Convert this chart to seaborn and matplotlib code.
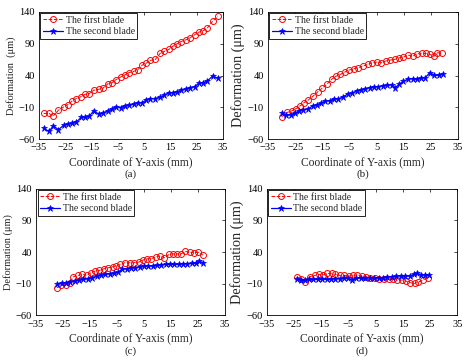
import matplotlib
matplotlib.use("Agg")
import matplotlib.pyplot as plt
import pandas as pd
import seaborn as sns

# ---- panel (a) ----
a_x = [-33.2, -31.2, -29.5, -27.6, -25.6, -24.0, -22.5, -20.9, -19.0, -17.4,
       -15.9, -14.2, -12.3, -10.7, -8.9, -7.4, -5.7, -3.9, -2.4, -0.8,
       1.1, 2.6, 4.3, 5.9, 7.4, 9.3, 11.2, 12.7, 14.4, 16.0,
       17.5, 19.1, 20.9, 22.5, 24.2, 25.8, 27.6, 29.1, 31.1, 33.0]
a_first = [-19.8, -19.8, -23.5, -14.6, -9.4, -5.7, -0.5, 3.7, 6.8, 10.5,
           11.5, 16.8, 18.3, 19.9, 26.7, 28.2, 33.5, 37.6, 40.8, 44.4,
           46.5, 49.1, 56.4, 59.6, 63.8, 65.3, 75.2, 77.9, 81.0, 86.2,
           89.9, 93.5, 96.1, 99.3, 104.0, 108.2, 110.8, 114.9, 125.4, 133.2]
a_second = [-43.3, -48.0, -39.1, -45.4, -38.1, -36.5, -35.5, -33.9, -26.1, -26.1,
            -24.5, -15.6, -20.8, -19.3, -15.6, -13.0, -8.8, -10.4, -7.8, -6.7,
            -5.2, -2.6, -2.6, 1.6, 3.7, 3.7, 6.3, 8.9, 13.1, 13.1,
            14.1, 16.8, 18.3, 20.9, 22.5, 27.7, 28.8, 31.4, 39.2, 35.6]

# ---- panel (b) ----
b_first_x = [-29.9, -28.0, -26.2, -24.6, -23.2, -21.7, -20.1, -18.3, -16.7, -15.1,
             -13.4, -11.6, -9.8, -8.3, -6.7, -5.1, -3.4, -1.8, 0.0, 1.8,
             3.4, 5.1, 6.7, 8.3, 10.0, 11.6, 13.4, 14.9, 16.5, 18.3,
             19.9, 21.7, 23.2, 24.6, 26.2, 27.4, 29.0]
b_first = [-25.0, -18.2, -15.6, -12.0, -7.8, -2.6, 1.6, 7.9, 14.1, 19.9,
           26.1, 34.0, 39.2, 41.8, 45.5, 48.6, 50.7, 52.3, 54.9, 57.5,
           60.1, 61.1, 60.1, 62.7, 64.3, 65.3, 67.9, 69.0, 72.1, 70.5,
           74.2, 74.7, 74.7, 73.2, 70.5, 75.8, 75.8]
b_second_x = [-29.9, -28.3, -26.6, -25.0, -23.4, -22.0, -20.1, -18.5, -17.1, -15.5,
              -13.9, -12.2, -10.6, -9.1, -7.3, -5.7, -4.1, -2.4, -0.9, 0.9,
              2.4, 4.0, 5.6, 7.3, 8.9, 10.5, 11.8, 13.4, 14.9, 16.5,
              18.3, 19.9, 21.3, 22.9, 24.6, 26.2, 27.8, 29.3]
b_second = [-19.3, -22.4, -21.4, -19.3, -15.6, -14.1, -12.0, -7.8, -6.2, -3.6,
            0.0, 0.0, 3.7, 2.7, 6.8, 10.5, 12.1, 15.7, 17.3, 19.4,
            21.0, 22.5, 22.5, 23.6, 24.6, 25.1, 21.0, 26.1, 31.4, 34.0,
            35.0, 34.0, 35.6, 36.6, 44.4, 40.3, 40.3, 42.3]

# ---- panel (c) ----
c_first_x = [-27.2, -25.6, -23.9, -22.5, -21.1, -19.5, -17.8, -16.2, -14.7, -13.1,
             -11.5, -9.8, -8.2, -6.6, -5.2, -3.7, -2.1, -0.3, 1.3, 3.1,
             4.6, 6.2, 7.7, 9.5, 11.1, 12.6, 14.4, 15.9, 17.4, 18.9,
             20.3, 22.0, 23.6, 25.1, 26.9]
c_first = [-16.3, -12.6, -12.6, -8.4, 1.1, 3.2, 4.7, 3.2, 7.4, 10.0,
           11.1, 13.7, 15.3, 16.8, 17.9, 20.5, 23.2, 23.2, 23.2, 24.2,
           27.4, 29.5, 29.5, 32.6, 33.7, 31.1, 36.3, 37.4, 37.4, 37.4,
           41.1, 40.0, 38.9, 40.0, 35.3]
c_second_x = [-27.2, -25.3, -23.8, -22.3, -20.7, -19.1, -17.4, -15.8, -14.2, -12.5,
              -10.9, -9.3, -7.7, -6.1, -4.6, -3.0, -1.3, 0.3, 1.9, 3.4,
              5.0, 6.6, 8.3, 9.9, 11.5, 13.2, 14.8, 16.3, 18.1, 19.6,
              21.2, 22.9, 24.4, 25.4, 26.9]
c_second = [-11.1, -9.5, -8.4, -6.8, -5.8, -4.2, -3.2, -2.1, -0.5, 2.1,
            3.2, 4.7, 5.8, 6.3, 8.4, 12.6, 13.7, 15.3, 15.3, 16.3,
            17.9, 17.9, 17.9, 18.9, 19.5, 20.5, 20.5, 20.5, 20.5, 21.6,
            21.6, 22.1, 22.1, 25.8, 23.2]

# ---- panel (d) ----
d_first_x = [-24.1, -22.6, -21.0, -19.3, -17.3, -15.9, -14.4, -12.8, -11.2, -9.8,
             -8.3, -6.5, -4.9, -3.4, -1.8, -0.2, 1.5, 3.0, 4.6, 6.1,
             7.9, 9.8, 11.3, 12.8, 14.6, 16.1, 17.7, 19.3, 20.7, 22.2, 24.1]
d_first = [0.5, -2.1, -7.4, 1.1, 3.2, 4.7, 3.7, 6.3, 6.3, 4.7,
           3.2, 3.2, 2.1, 3.2, 3.7, 2.1, 1.1, -0.5, -0.5, -2.1,
           -3.2, -2.1, -3.2, -4.2, -4.2, -5.8, -8.4, -9.5, -7.4, -4.2, -0.5]
d_second_x = [-24.1, -22.6, -21.0, -19.5, -17.9, -16.3, -14.6, -13.0, -11.5, -9.8,
              -8.3, -6.7, -5.1, -3.7, -2.1, -0.5, 1.2, 2.8, 4.4, 6.1,
              7.7, 9.3, 11.0, 12.6, 14.1, 15.9, 17.4, 19.0, 20.1, 21.7, 23.2, 24.4]
d_second = [-3.2, -4.2, -4.7, -3.2, -3.2, -3.2, -2.7, -3.2, -2.7, -2.1,
            -2.1, -1.6, -1.1, -4.2, -1.1, -1.1, -1.1, -0.5, -1.1, -1.1,
            -0.5, 0.5, 1.1, 2.1, 2.1, 2.1, 2.1, 4.7, 6.3, 4.2, 4.2, 3.2]

x_ticks = [-35, -25, -15, -5, 5, 15, 25, 35]
y_ticks = [-60, -10, 40, 90, 140]

sns.set_theme(style="white")
plt.rcParams['font.family'] = ['Liberation Serif', 'DejaVu Serif']
plt.rcParams['xtick.direction'] = 'in'
plt.rcParams['ytick.direction'] = 'in'
plt.rcParams['xtick.top'] = True
plt.rcParams['ytick.right'] = True
plt.rcParams['xtick.major.size'] = 2.5
plt.rcParams['ytick.major.size'] = 2.5
plt.rcParams['xtick.major.width'] = 0.5
plt.rcParams['ytick.major.width'] = 0.5
plt.rcParams['axes.edgecolor'] = 'black'
plt.rcParams['axes.linewidth'] = 0.6


def draw_panel(ax, x1, y1, x2, y2, ylabel, ylabel_size, caption):
    df1 = pd.DataFrame({'x': x1, 'y': y1})
    df2 = pd.DataFrame({'x': x2, 'y': y2})
    sns.lineplot(data=df1, x='x', y='y', ax=ax, color='red', linestyle='--',
                 linewidth=0.7, marker='o', markersize=4.3, markerfacecolor='none',
                 markeredgecolor='red', markeredgewidth=0.7, label='The first blade')
    sns.lineplot(data=df2, x='x', y='y', ax=ax, color='blue', linestyle='-',
                 linewidth=0.9, marker='*', markersize=4.5, markerfacecolor='blue',
                 markeredgecolor='blue', markeredgewidth=0.5, label='The second blade')
    ax.set_xlim(-35, 35)
    ax.set_ylim(-60, 140)
    ax.set_xticks(x_ticks)
    ax.set_yticks(y_ticks)
    ax.tick_params(labelsize=7.5, colors='black', pad=3)
    ax.set_xlabel('Coordinate of Y-axis (mm)', fontsize=8.3, labelpad=3)
    ax.set_ylabel(ylabel, fontsize=ylabel_size, labelpad=2)
    ax.text(0.5, -0.28, caption, transform=ax.transAxes, ha='center', va='center',
            fontsize=8)
    leg = ax.legend(loc='upper left', fontsize=7.1, frameon=True, fancybox=False,
                    framealpha=1, edgecolor='black', borderaxespad=0.15,
                    handlelength=2.0, handletextpad=0.3, borderpad=0.25,
                    labelspacing=0.25)
    leg.get_frame().set_linewidth(0.6)


fig = plt.figure(figsize=(4.74, 3.63), dpi=100)
ax_a = fig.add_axes([0.0823, 0.617, 0.388, 0.350])
ax_b = fig.add_axes([0.5654, 0.617, 0.401, 0.350])
ax_c = fig.add_axes([0.0760, 0.131, 0.398, 0.349])
ax_d = fig.add_axes([0.5630, 0.131, 0.402, 0.349])

draw_panel(ax_a, a_x, a_first, a_x, a_second, 'Deformation  (\u03bcm)', 7.5, '(a)')
draw_panel(ax_b, b_first_x, b_first, b_second_x, b_second, 'Deformation (\u03bcm)', 10.2, '(b)')
draw_panel(ax_c, c_first_x, c_first, c_second_x, c_second, 'Deformation (\u03bcm)', 7.5, '(c)')
draw_panel(ax_d, d_first_x, d_first, d_second_x, d_second, 'Deformation (\u03bcm)', 10.2, '(d)')

fig.savefig('out.png', dpi=100)
